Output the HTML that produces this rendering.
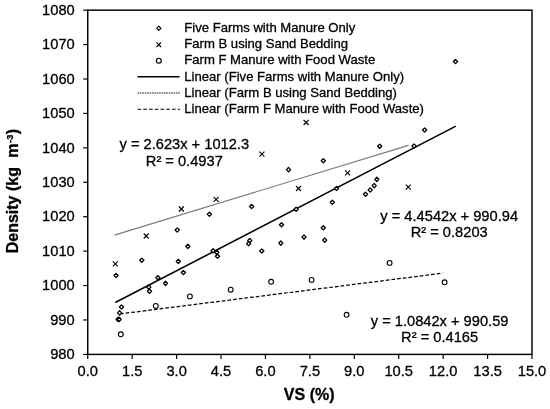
<!DOCTYPE html>
<html><head><meta charset="utf-8"><title>Density vs VS</title>
<style>
html,body{margin:0;padding:0;background:#fff;}
svg{display:block;}
text{font-family:"Liberation Sans",sans-serif;fill:#000;stroke:#000;stroke-width:0.3px;}
.t{font-size:14.67px;}
.l{font-size:13.1px;}
.b{font-size:16px;font-weight:bold;}
</style></head><body>
<svg width="550" height="409" viewBox="0 0 550 409">
<rect width="550" height="409" fill="#fff"/>
<rect x="87.75" y="10.15" width="444.25" height="344.25" fill="none" stroke="#000" stroke-width="1.45"/>
<g stroke="#000" stroke-width="1.2"><line x1="83.2" y1="10.15" x2="87.75" y2="10.15"/><line x1="87.75" y1="354.4" x2="87.75" y2="359.0"/><line x1="83.2" y1="44.57" x2="87.75" y2="44.57"/><line x1="132.18" y1="354.4" x2="132.18" y2="359.0"/><line x1="83.2" y1="79.00" x2="87.75" y2="79.00"/><line x1="176.60" y1="354.4" x2="176.60" y2="359.0"/><line x1="83.2" y1="113.43" x2="87.75" y2="113.43"/><line x1="221.03" y1="354.4" x2="221.03" y2="359.0"/><line x1="83.2" y1="147.85" x2="87.75" y2="147.85"/><line x1="265.45" y1="354.4" x2="265.45" y2="359.0"/><line x1="83.2" y1="182.28" x2="87.75" y2="182.28"/><line x1="309.88" y1="354.4" x2="309.88" y2="359.0"/><line x1="83.2" y1="216.70" x2="87.75" y2="216.70"/><line x1="354.30" y1="354.4" x2="354.30" y2="359.0"/><line x1="83.2" y1="251.12" x2="87.75" y2="251.12"/><line x1="398.73" y1="354.4" x2="398.73" y2="359.0"/><line x1="83.2" y1="285.55" x2="87.75" y2="285.55"/><line x1="443.15" y1="354.4" x2="443.15" y2="359.0"/><line x1="83.2" y1="319.97" x2="87.75" y2="319.97"/><line x1="487.57" y1="354.4" x2="487.57" y2="359.0"/><line x1="83.2" y1="354.40" x2="87.75" y2="354.40"/><line x1="532.00" y1="354.4" x2="532.00" y2="359.0"/></g>
<g class="t" text-anchor="end"><text x="74.7" y="14.9">1080</text><text x="74.7" y="49.3">1070</text><text x="74.7" y="83.7">1060</text><text x="74.7" y="118.1">1050</text><text x="74.7" y="152.5">1040</text><text x="74.7" y="187.0">1030</text><text x="74.7" y="221.4">1020</text><text x="74.7" y="255.8">1010</text><text x="74.7" y="290.2">1000</text><text x="74.7" y="324.7">990</text><text x="74.7" y="359.1">980</text></g>
<g class="t" text-anchor="middle"><text x="87.8" y="376.4">0.0</text><text x="132.2" y="376.4">1.5</text><text x="176.6" y="376.4">3.0</text><text x="221.0" y="376.4">4.5</text><text x="265.4" y="376.4">6.0</text><text x="309.9" y="376.4">7.5</text><text x="354.3" y="376.4">9.0</text><text x="398.7" y="376.4">10.5</text><text x="443.1" y="376.4">12.0</text><text x="487.6" y="376.4">13.5</text><text x="532.0" y="376.4">15.0</text></g>
<line x1="114.4" y1="235.1" x2="408.5" y2="145.4" stroke="#7c7c7c" stroke-width="1.15"/>
<line x1="120.0" y1="313.9" x2="442.6" y2="273.2" stroke="#000" stroke-width="1.25" stroke-dasharray="3.65 2.05"/>
<line x1="115.3" y1="302.5" x2="455.9" y2="126.1" stroke="#000" stroke-width="1.55"/>
<g fill="#fff" stroke="#000" stroke-width="1.3" stroke-linejoin="round"><path d="M114.0 275.5L116.1 273.4L118.2 275.5L116.1 277.6Z"/><path d="M139.7 260.2L141.8 258.1L143.9 260.2L141.8 262.3Z"/><path d="M176.2 261.4L178.3 259.3L180.4 261.4L178.3 263.5Z"/><path d="M181.3 272.5L183.4 270.4L185.5 272.5L183.4 274.6Z"/><path d="M155.8 277.8L157.9 275.7L160.0 277.8L157.9 279.9Z"/><path d="M163.4 283.4L165.5 281.3L167.6 283.4L165.5 285.5Z"/><path d="M146.7 287.1L148.8 285.0L150.9 287.1L148.8 289.2Z"/><path d="M147.4 291.3L149.5 289.2L151.6 291.3L149.5 293.4Z"/><path d="M119.4 307.0L121.5 304.9L123.6 307.0L121.5 309.1Z"/><path d="M117.5 312.9L119.6 310.8L121.7 312.9L119.6 315.0Z"/><path d="M116.0 319.4L118.1 317.3L120.2 319.4L118.1 321.5Z"/><path d="M117.1 319.4L119.2 317.3L121.3 319.4L119.2 321.5Z"/><path d="M207.3 214.3L209.4 212.2L211.5 214.3L209.4 216.4Z"/><path d="M249.5 206.5L251.6 204.4L253.7 206.5L251.6 208.6Z"/><path d="M279.4 224.8L281.5 222.7L283.6 224.8L281.5 226.9Z"/><path d="M185.7 246.4L187.8 244.3L189.9 246.4L187.8 248.5Z"/><path d="M211.0 250.8L213.1 248.7L215.2 250.8L213.1 252.9Z"/><path d="M214.7 252.4L216.8 250.3L218.9 252.4L216.8 254.5Z"/><path d="M215.4 256.3L217.5 254.2L219.6 256.3L217.5 258.4Z"/><path d="M247.6 240.6L249.7 238.5L251.8 240.6L249.7 242.7Z"/><path d="M246.5 243.6L248.6 241.5L250.7 243.6L248.6 245.7Z"/><path d="M259.7 251.0L261.8 248.9L263.9 251.0L261.8 253.1Z"/><path d="M278.7 243.1L280.8 241.0L282.9 243.1L280.8 245.2Z"/><path d="M377.6 146.2L379.7 144.1L381.8 146.2L379.7 148.3Z"/><path d="M321.2 160.8L323.3 158.7L325.4 160.8L323.3 162.9Z"/><path d="M286.4 169.6L288.5 167.5L290.6 169.6L288.5 171.7Z"/><path d="M334.4 188.5L336.5 186.4L338.6 188.5L336.5 190.6Z"/><path d="M374.7 179.4L376.8 177.3L378.9 179.4L376.8 181.5Z"/><path d="M372.1 185.6L374.2 183.5L376.3 185.6L374.2 187.7Z"/><path d="M368.1 190.0L370.2 187.9L372.3 190.0L370.2 192.1Z"/><path d="M363.4 194.3L365.5 192.2L367.6 194.3L365.5 196.4Z"/><path d="M294.0 209.2L296.1 207.1L298.2 209.2L296.1 211.3Z"/><path d="M330.2 202.3L332.3 200.2L334.4 202.3L332.3 204.4Z"/><path d="M321.2 227.8L323.3 225.7L325.4 227.8L323.3 229.9Z"/><path d="M301.9 237.1L304.0 235.0L306.1 237.1L304.0 239.2Z"/><path d="M322.6 240.1L324.7 238.0L326.8 240.1L324.7 242.2Z"/><path d="M175.1 230.0L177.2 227.9L179.3 230.0L177.2 232.1Z"/><path d="M453.4 61.5L455.5 59.4L457.6 61.5L455.5 63.6Z"/><path d="M422.5 130.0L424.6 127.9L426.7 130.0L424.6 132.1Z"/><path d="M411.9 146.0L414.0 143.9L416.1 146.0L414.0 148.1Z"/></g>
<g fill="none" stroke="#000" stroke-width="1.1"><path d="M112.8 261.3L117.8 266.3M112.8 266.3L117.8 261.3"/><path d="M213.6 196.8L218.6 201.8M213.6 201.8L218.6 196.8"/><path d="M303.6 120.0L308.6 125.0M303.6 125.0L308.6 120.0"/><path d="M345.1 170.4L350.1 175.4M345.1 175.4L350.1 170.4"/><path d="M296.0 186.0L301.0 191.0M296.0 191.0L301.0 186.0"/><path d="M405.8 184.6L410.8 189.6M405.8 189.6L410.8 184.6"/><path d="M259.4 151.6L264.4 156.6M259.4 156.6L264.4 151.6"/><path d="M143.7 233.5L148.7 238.5M143.7 238.5L148.7 233.5"/><path d="M178.9 206.5L183.9 211.5M178.9 211.5L183.9 206.5"/></g>
<g fill="#fff" stroke="#000" stroke-width="1.1"><circle cx="120.8" cy="334.3" r="2.4"/><circle cx="155.8" cy="305.9" r="2.4"/><circle cx="189.9" cy="296.4" r="2.4"/><circle cx="230.7" cy="289.7" r="2.4"/><circle cx="271.1" cy="281.8" r="2.4"/><circle cx="311.6" cy="279.9" r="2.4"/><circle cx="389.6" cy="262.9" r="2.4"/><circle cx="444.6" cy="282.3" r="2.4"/><circle cx="346.6" cy="314.8" r="2.4"/></g>
<g fill="#fff" stroke="#000" stroke-width="1.2" stroke-linejoin="round"><path d="M156.7 28.3L158.8 26.2L160.9 28.3L158.8 30.4Z"/><circle cx="158.8" cy="60.7" r="2.45"/></g>
<g fill="none" stroke="#000" stroke-width="1.1"><path d="M156.5 42.4L161.1 47.0M156.5 47.0L161.1 42.4"/></g>
<line x1="137.5" y1="76.8" x2="179.6" y2="76.8" stroke="#000" stroke-width="1.55"/>
<line x1="137.5"  y1="93.0" x2="180" y2="93.0" stroke="#1a1a1a" stroke-width="1.15" stroke-dasharray="1.6 0.8"/>
<line x1="137.5" y1="109.2" x2="180"  y2="109.2" stroke="#000" stroke-width="1.1" stroke-dasharray="3.7 2.05"/>
<g class="l"><text x="184.3" y="32">Five Farms with Manure Only</text><text x="184.3" y="48">Farm B using Sand Bedding</text><text x="184.3" y="64">Farm F Manure with Food Waste</text><text x="184.3" y="81">Linear (Five Farms with Manure Only)</text><text x="184.3" y="97">Linear (Farm B using Sand Bedding)</text><text x="184.3" y="113">Linear (Farm F Manure with Food Waste)</text></g>
<g class="t" text-anchor="middle"><text x="184.3" y="149">y = 2.623x + 1012.3</text><text x="184.3" y="166">R² = 0.4937</text><text x="449.2" y="221">y = 4.4542x + 990.94</text><text x="449.2" y="237">R² = 0.8203</text><text x="439.6" y="326">y = 1.0842x + 990.59</text><text x="439.6" y="342">R² = 0.4165</text></g>
<text class="b" text-anchor="middle" x="309.2" y="400">VS (%)</text>
<text class="b" transform="translate(18,253.3) rotate(-90)" xml:space="preserve">Density (kg  <tspan dx="0.3">m</tspan><tspan dx="0.7" dy="-5" font-size="9.3px">-3</tspan><tspan dx="0.5" dy="5">)</tspan></text>
</svg></body></html>
